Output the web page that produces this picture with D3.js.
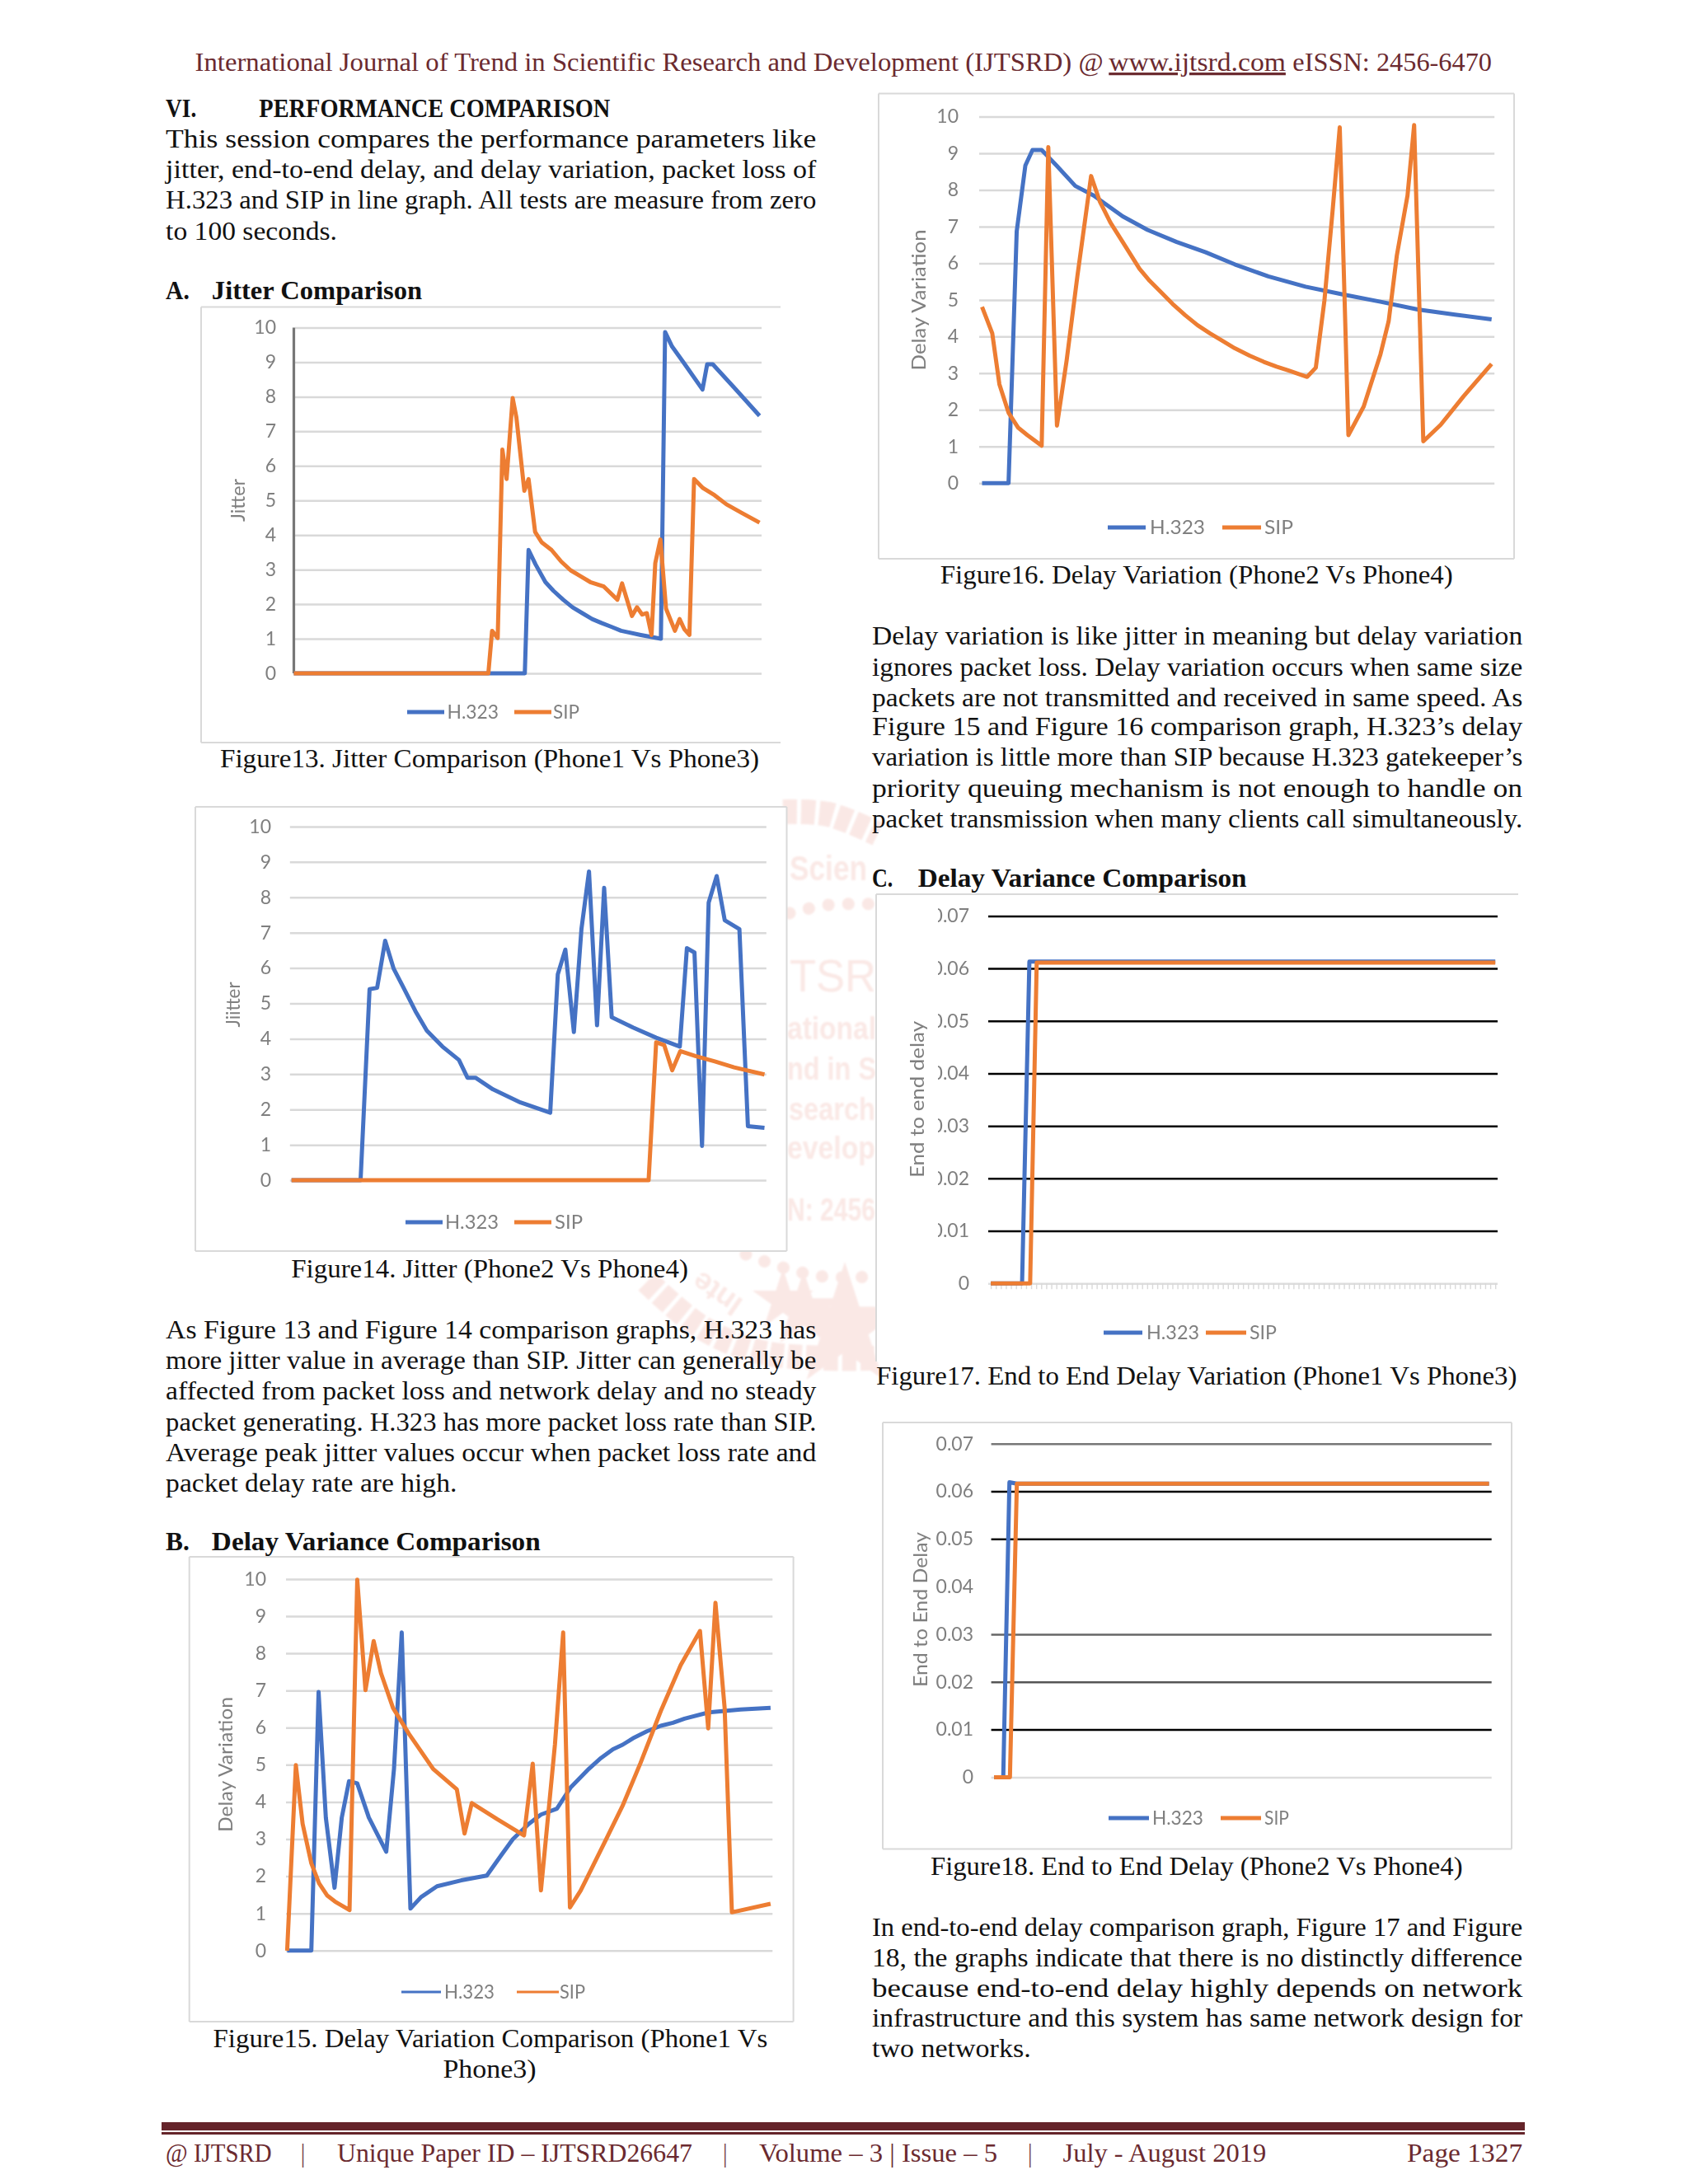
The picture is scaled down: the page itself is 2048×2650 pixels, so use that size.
<!DOCTYPE html>
<html><head><meta charset="utf-8">
<script src="https://cdnjs.cloudflare.com/ajax/libs/d3/7.8.5/d3.min.js"></script>
<style>html,body{margin:0;padding:0;background:#fff}svg{display:block}</style>
</head><body>
<svg id="page" width="2048" height="2650"></svg>
<script>
// ---------- chart data: t = seconds (0-100), v = value ----------
const seriesNames = ["H.323", "SIP"];
const yTicks10 = [0,1,2,3,4,5,6,7,8,9,10];
const yTicksDelay = [0,0.01,0.02,0.03,0.04,0.05,0.06,0.07];

const fig13H323T = [0,49.4,50.2,51.7,53.8,55.5,57.6,59.6,61.7,63.8,65.9,68,70.0,74.2,78.5,79.4,80.9,83.4,87.4,88.4,89.6,94.2,99.6];
const fig13H323V = [0,0,3.57,3.15,2.64,2.39,2.13,1.91,1.74,1.57,1.45,1.34,1.23,1.11,1.0,9.87,9.45,8.98,8.21,8.94,8.94,8.26,7.45];
const fig13SipT = [0,41.6,42.4,43.6,44.6,45.5,46.8,47.6,49.3,50.2,51.6,53,55.1,57.2,59.2,61.3,63.4,66.3,69.2,70.2,72.3,73.4,74.5,75.5,76.5,77.3,78.4,79.6,81.5,82.5,83.5,84.6,85.6,87.5,90,92.5,95.8,99.6];
const fig13SipV = [0,0,1.23,1.02,6.47,5.62,7.96,7.4,5.28,5.62,4.09,3.79,3.57,3.23,2.98,2.81,2.64,2.51,2.13,2.6,1.66,1.91,1.70,1.74,1.11,3.19,3.87,1.87,1.23,1.57,1.28,1.11,5.62,5.36,5.15,4.89,4.64,4.36];

const fig14H323T = [0,14.6,16.5,18.1,19.8,21.6,23.7,26.2,28.6,31.9,35.4,37.2,38.9,42.6,48.4,54.7,56.3,57.9,59.7,61.3,62.9,64.6,66.1,67.7,72.2,77.1,82.1,83.6,85.2,86.8,88.2,89.9,91.6,94.7,96.5,100];
const fig14H323V = [0,0,5.40,5.44,6.77,5.98,5.44,4.78,4.23,3.78,3.40,2.90,2.90,2.57,2.20,1.91,5.82,6.52,4.19,7.10,8.73,4.38,8.27,4.61,4.32,4.03,3.78,6.56,6.44,0.97,7.85,8.60,7.35,7.10,1.53,1.48];
const fig14SipT = [0,75.5,77.1,78.8,80.5,82.2,85.4,89.5,93.6,100];
const fig14SipV = [0,0,3.90,3.82,3.11,3.65,3.51,3.36,3.19,2.99];

const fig15H323T = [0,5.0,6.5,8.0,9.8,11.3,12.8,14.5,16.9,20.5,22.1,23.7,25.5,27.7,31,36,41.3,44.2,46.7,50,52.5,55.8,58.7,62.4,64.9,67.4,69.4,71.5,74.4,77.3,79.8,82.2,87.2,93.8,100];
const fig15H323V = [0,0,6.96,3.58,1.69,3.58,4.56,4.50,3.58,2.66,4.89,8.56,1.13,1.44,1.73,1.89,2.02,2.55,3.0,3.41,3.66,3.82,4.40,4.89,5.18,5.42,5.54,5.71,5.90,6.05,6.13,6.24,6.41,6.49,6.53];
const fig15SipT = [0,1.8,3.2,5,6.6,8.3,9.9,12.9,14.5,16.2,17.9,19.4,21.9,25.2,30.2,35.1,36.7,38.2,43.4,49,50.8,52.5,55.4,57.1,58.5,60.7,65.7,69.4,73.1,77.3,81.4,85.4,87.1,88.6,90.5,92,100];
const fig15SipV = [0,4.99,3.41,2.35,1.81,1.48,1.32,1.09,9.98,7.01,8.33,7.47,6.53,5.83,4.89,4.34,3.15,3.97,3.54,3.10,5.03,1.62,5.55,8.56,1.16,1.61,2.92,3.90,5.05,6.45,7.68,8.60,5.98,9.36,6.53,1.03,1.26];

const fig16H323T = [0,5.2,6.8,8.5,9.9,11.7,14.6,18.3,21.9,27.6,32.5,38.2,43.9,49.6,56.2,63.5,70.8,78.2,85.5,92.8,100];
const fig16H323V = [0,0,6.87,8.67,9.09,9.09,8.67,8.11,7.85,7.28,6.91,6.58,6.30,5.97,5.64,5.36,5.15,4.95,4.74,4.60,4.47];
const fig16SipT = [0,2,3.4,5.2,7.1,8.9,11.7,13,14.7,16.6,18.7,21.4,23.1,25.2,27.6,30.9,32.9,35,37.4,39.9,42.3,44.7,47.2,49.6,52.5,55.3,57.8,60.2,63.8,65.5,67.2,68.8,70.2,71.9,74.9,78.2,79.8,81.4,83.5,84.8,86.6,90,94.5,100];
const fig16SipV = [4.81,4.09,2.70,1.92,1.51,1.31,1.02,9.17,1.57,3.35,5.64,8.38,7.69,7.11,6.58,5.85,5.52,5.23,4.89,4.58,4.31,4.09,3.88,3.68,3.48,3.31,3.18,3.07,2.90,3.15,4.99,7.44,9.71,1.31,2.09,3.52,4.42,6.21,7.85,9.77,1.14,1.59,2.37,3.25];

const fig17H323T = [0,6.2,7.65,100];
const fig17H323V = [0,0,0.0613,0.0613];
const fig17SipT = [0,7.8,9.1,100];
const fig17SipV = [0,0,0.0611,0.0611];

const fig18H323T = [0,1.85,3.1,4.6,100];
const fig18H323V = [0,0,0.0619,0.0616,0.0616];
const fig18SipT = [0,3.2,4.6,100];
const fig18SipV = [0,0,0.0616,0.0616];

// ---------- page text ----------
const headerParts = [
  ["International Journal of Trend in Scientific Research and Development (IJTSRD) @", 140, 792, 45, false],
  ["www.ijtsrd.com", 796, 923, 45, true],
  ["eISSN: 2456-6470", 928, 1071, 45, false]
];
const bodyLines = [
  ["This session compares the performance parameters like",119,586,100],
  ["jitter, end-to-end delay, and delay variation, packet loss of",119,586,122],
  ["H.323 and SIP in line graph. All tests are measure from zero",119,586,144],
  ["to 100 seconds.",119,242,166],
  ["Figure13. Jitter Comparison (Phone1 Vs Phone3)",158,545,545],
  ["Figure14. Jitter (Phone2 Vs Phone4)",209,494,911],
  ["As Figure 13 and Figure 14 comparison graphs, H.323 has",119,586,955],
  ["more jitter value in average than SIP. Jitter can generally be",119,586,977],
  ["affected from packet loss and network delay and no steady",119,586,999],
  ["packet generating. H.323 has more packet loss rate than SIP.",119,586,1021],
  ["Average peak jitter values occur when packet loss rate and",119,586,1043],
  ["packet delay rate are high.",119,328,1065],
  ["Figure15. Delay Variation Comparison (Phone1 Vs",153,551,1464],
  ["Phone3)",318,385,1486],
  ["Figure16. Delay Variation (Phone2 Vs Phone4)",675,1043,413],
  ["Delay variation is like jitter in meaning but delay variation",626,1093,457],
  ["ignores packet loss. Delay variation occurs when same size",626,1093,479],
  ["packets are not transmitted and received in same speed. As",626,1093,501],
  ["Figure 15 and Figure 16 comparison graph, H.323\u2019s delay",626,1093,522],
  ["variation is little more than SIP because H.323 gatekeeper\u2019s",626,1093,544],
  ["priority queuing mechanism is not enough to handle on",626,1093,566],
  ["packet transmission when many clients call simultaneously.",626,1093,588],
  ["Figure17. End to End Delay Variation (Phone1 Vs Phone3)",629,1089,988],
  ["Figure18. End to End Delay (Phone2 Vs Phone4)",668,1050,1340],
  ["In end-to-end delay comparison graph, Figure 17 and Figure",626,1093,1384],
  ["18, the graphs indicate that there is no distinctly difference",626,1093,1406],
  ["because end-to-end delay highly depends on network",626,1093,1428],
  ["infrastructure and this system has same network design for",626,1093,1449],
  ["two networks.",626,740,1471]
];
const boldLines = [
  ["VI.",119,141,78],["PERFORMANCE COMPARISON",186,438,78],
  ["A.",119,136,209],["Jitter Comparison",152,303,209],
  ["B.",119,136,1107],["Delay Variance Comparison",152,388,1107],
  ["C.",626,641,631],["Delay Variance Comparison",659,895,631]
];
const footerParts = [
  ["@ IJTSRD",119,195],["|",216,219],["Unique Paper ID \u2013 IJTSRD26647",242,497],["|",519,522],
  ["Volume \u2013 3 | Issue \u2013 5",545,716],["|",738,741],["July - August 2019",763,909],["Page 1327",1010,1093]
];

// ---------- layout of each figure (page pixels) ----------
const intFmt = d3.format("d");
const delayFmt = d => d === 0 ? "0" : d3.format(".2f")(d);
const figures = [
 {name:"Jitter", box:[244,372.5,947,901], sides:"tlb", grid:[358,924], x:[356.5,923.8], y:[817,397.5],
  ticks:yTicks10, fmt:intFmt, tickR:335, title:289, titleY:607, titleLen:52,
  h:[fig13H323T,fig13H323V], s:[fig13SipT,fig13SipV], axisLine:true,
  legendY:864, leg:[494,539,542.5,605,624,669,671,703], legW:5},
 {name:"Jiitter", box:[237,979,954.5,1518], sides:"tlbr", grid:[351.8,929.8], x:[353.7,927.5], y:[1432.1,1002.9],
  ticks:yTicks10, fmt:intFmt, tickR:329, title:283, titleY:1219, titleLen:55,
  h:[fig14H323T,fig14H323V], s:[fig14SipT,fig14SipV],
  legendY:1483, leg:[492,537,540,605,624,669,673,707], legW:5},
 {name:"Delay Variation", box:[229.7,1889,962.6,2453], sides:"tlbr", grid:[347,937.3], x:[348.4,934.9], y:[2366.8,1915.9],
  ticks:yTicks10, fmt:intFmt, tickR:323, title:274, titleY:2141, titleLen:164,
  h:[fig15H323T,fig15H323V], s:[fig15SipT,fig15SipV],
  legendY:2417, leg:[487,535,539,600,627,678,679,710], legW:3},
 {name:"Delay Variation", box:[1066,113.6,1837,678], sides:"tlbr", grid:[1188,1813.2], x:[1191.5,1809.7], y:[586.2,141.6],
  ticks:yTicks10, fmt:intFmt, tickR:1163, title:1115, titleY:364, titleLen:171,
  h:[fig16H323T,fig16H323V], s:[fig16SipT,fig16SipV],
  legendY:640, leg:[1344,1390,1395,1462,1483,1530,1534,1569], legW:5},
 {name:"End to end delay", box:[1063,1085,1842,1652], sides:"tl", grid:[1199,1817.2], x:[1202.1,1814.2], y:[1557.2,1111.4],
  ticks:yTicksDelay, fmt:delayFmt, tickR:1176, title:1113, titleY:1334, titleLen:190, clipLabels:1138,
  h:[fig17H323T,fig17H323V], s:[fig17SipT,fig17SipV], xTicks:true,
  gridColors:["#ddd","#000","#000","#000","#000","#000","#000","#000"],
  legendY:1617, leg:[1339,1386,1391,1455,1463,1512,1516,1549], legW:5},
 {name:"End to End Delay", box:[1071,1726,1834,2243.5], sides:"tlbr", grid:[1202.6,1809.7], x:[1206.1,1806.6], y:[2156.4,1751.7],
  ticks:yTicksDelay, fmt:delayFmt, tickR:1181, title:1117, titleY:1953, titleLen:188,
  h:[fig18H323T,fig18H323V], s:[fig18SipT,fig18SipV],
  gridColors:["#ddd","#000","#555","#666","#fff","#111","#000","#777"],
  legendY:2206, leg:[1345,1394,1398,1460,1481,1530,1534,1564], legW:5}
];
const LINE_W = 5, GRID_W = 2.5;

const BLUE="#4472C4", ORANGE="#ED7D31", MAROON="#6b2a2f", GREY="#7f7f7f";
const K = 2650/1568;
const svg = d3.select("#page");
svg.append("rect").attr("width",2048).attr("height",2650).attr("fill","#fff");
const defs = svg.append("defs");
defs.append("filter").attr("id","soft").attr("x","-5%").attr("y","-5%").attr("width","110%").attr("height","110%")
  .append("feGaussianBlur").attr("stdDeviation",0.7);
defs.append("filter").attr("id","softer").append("feGaussianBlur").attr("stdDeviation",1.1);

// ---------- watermark (only the fragments that show between the figures) ----------
const PINK="#fae8e5";
const wm = svg.append("g").attr("filter","url(#softer)");
const curve = d3.line().curve(d3.curveCatmullRom);
[[[950,985],[1005,988],[1065,1012]], [[785,1555],[850,1610],[920,1640],[1000,1648],[1063,1648]]].forEach(p=>{
  wm.append("path").attr("d",curve(p)).attr("fill","none").attr("stroke",PINK).attr("stroke-width",30).attr("stroke-dasharray","17 5");
});
[[[958,1108],[1005,1098],[1060,1097]], [[905,1522],[950,1538],[1000,1549],[1060,1549]]].forEach(p=>{
  wm.append("path").attr("d",curve(p)).attr("fill","none").attr("stroke",PINK).attr("stroke-width",15)
    .attr("stroke-linecap","round").attr("stroke-dasharray","0.1 24");
});
[[1025,1610,7000],[975,1590,2600],[950,1578,1700]].forEach(([x,y,a])=>{
  wm.append("path").attr("d",d3.symbol(d3.symbolStar,a)()).attr("transform",`translate(${x},${y})`).attr("fill",PINK);
});
[["Scien",958,1052,1068,42,"bold"],["TSR",958,1063,1203,56,"normal"],["ational",955,1063,1261,38,"bold"],["nd in S",955,1063,1310,38,"bold"],
 ["search",957,1062,1359,38,"bold"],["evelop",955,1062,1406,38,"bold"],["N: 2456",955,1062,1481,38,"bold"]].forEach(([t,x,x2,y,f,w])=>{
  wm.append("text").attr("x",x).attr("y",y).attr("font-family","Liberation Sans").attr("font-size",f).attr("font-weight",w).attr("fill",PINK)
    .attr("textLength",x2-x).attr("lengthAdjust","spacingAndGlyphs").text(t);
});
wm.append("text").attr("transform","translate(903,1578) rotate(215)").attr("font-family","Liberation Sans").attr("font-weight","bold").attr("font-size",36).attr("fill",PINK).text("Inte");

// ---------- figures ----------
figures.forEach((f,fi)=>{
  const [bx0,by0,bx1,by1]=f.box;
  svg.append("rect").attr("x",bx0).attr("y",by0).attr("width",bx1-bx0).attr("height",by1-by0).attr("fill","#fff");
  const g = svg.append("g").attr("filter","url(#soft)");
  const edge={t:[bx0,by0,bx1,by0],l:[bx0,by0,bx0,by1],b:[bx0,by1,bx1,by1],r:[bx1,by0,bx1,by1]};
  [...f.sides].forEach(s=>{ const e=edge[s];
    g.append("line").attr("x1",e[0]).attr("y1",e[1]).attr("x2",e[2]).attr("y2",e[3]).attr("stroke","#d9d9d9").attr("stroke-width",2);
  });
  const x = d3.scaleLinear().domain([0,100]).range(f.x);
  const y = d3.scaleLinear().domain([f.ticks[0],f.ticks[f.ticks.length-1]]).range(f.y);

  const axis = d3.axisLeft(y).tickValues(f.ticks).tickFormat(f.fmt).tickSize(-(f.grid[1]-f.grid[0])).tickPadding(f.grid[0]-f.tickR);
  const ag = g.append("g").attr("transform",`translate(${f.grid[0]},0)`).call(axis);
  ag.select(".domain").remove();
  ag.selectAll(".tick line").attr("stroke",(d,i)=>f.gridColors?f.gridColors[i]:"#d9d9d9").attr("stroke-width",GRID_W);
  ag.selectAll(".tick text").attr("fill",GREY).attr("font-family","Lato").attr("font-size",23);
  if(f.clipLabels){
    defs.append("clipPath").attr("id","clip"+fi).append("rect").attr("x",f.clipLabels-f.grid[0]).attr("y",f.y[1]-30).attr("width",f.grid[1]-f.clipLabels).attr("height",f.y[0]-f.y[1]+60);
    ag.attr("clip-path","url(#clip"+fi+")");
  }
  if(f.axisLine){
    g.append("line").attr("x1",f.x[0]).attr("x2",f.x[0]).attr("y1",y(10)).attr("y2",y(0)).attr("stroke","#777").attr("stroke-width",3.2);
  }
  if(f.xTicks){
    const xa = d3.axisBottom(x).tickValues(d3.range(0,101)).tickSize(7).tickFormat("");
    const xg = g.append("g").attr("transform",`translate(0,${f.y[0]})`).call(xa);
    xg.select(".domain").remove();
    xg.selectAll("line").attr("stroke","#d9d9d9").attr("stroke-width",1.4);
  }
  g.append("text").attr("transform",`translate(${f.title+8},${f.titleY}) rotate(-90)`).attr("text-anchor","middle")
    .attr("font-family","Lato").attr("font-size",24).attr("fill",GREY).attr("textLength",f.titleLen).attr("lengthAdjust","spacingAndGlyphs").text(f.name);

  const line = d3.line().x(d=>x(d[0])).y(d=>y(d[1]));
  [[f.h,BLUE],[f.s,ORANGE]].forEach(([pair,c])=>{
    g.append("path").datum(d3.zip(pair[0],pair[1])).attr("d",line).attr("fill","none").attr("stroke",c)
      .attr("stroke-width",LINE_W).attr("stroke-linejoin","round");
  });
  const L=f.leg;
  [[0,BLUE],[1,ORANGE]].forEach(([i,c])=>{
    const o=i*4;
    g.append("line").attr("x1",L[o]).attr("x2",L[o+1]).attr("y1",f.legendY).attr("y2",f.legendY).attr("stroke",c).attr("stroke-width",f.legW);
    g.append("text").attr("x",L[o+2]).attr("y",f.legendY+8).attr("font-family","Lato").attr("font-size",23).attr("fill",GREY)
      .attr("textLength",L[o+3]-L[o+2]).attr("lengthAdjust","spacingAndGlyphs").text(seriesNames[i]);
  });
});

// ---------- page text ----------
function put(t,x1,x2,cy,opt){
  opt=opt||{};
  return svg.append("text").attr("x",x1*K).attr("y",cy*K+10).attr("font-family","Liberation Serif").attr("font-size",32)
    .attr("font-weight",opt.weight||"normal").attr("fill",opt.fill||"#111")
    .attr("textLength",(x2-x1)*K).attr("lengthAdjust","spacingAndGlyphs").attr("text-decoration",opt.u?"underline":null).text(t);
}
headerParts.forEach(p=>put(p[0],p[1],p[2],p[3],{fill:MAROON,u:p[4]}));
bodyLines.forEach(p=>put(p[0],p[1],p[2],p[3]));
boldLines.forEach(p=>put(p[0],p[1],p[2],p[3],{weight:"bold"}));
footerParts.forEach(p=>put(p[0],p[1],p[2],1546,{fill:MAROON}));

// footer rules
svg.append("rect").attr("x",196).attr("y",2575).attr("width",1654).attr("height",10).attr("fill","#65242a");
svg.append("rect").attr("x",196).attr("y",2587).attr("width",1654).attr("height",3).attr("fill","#65242a");
</script>
</body></html>
